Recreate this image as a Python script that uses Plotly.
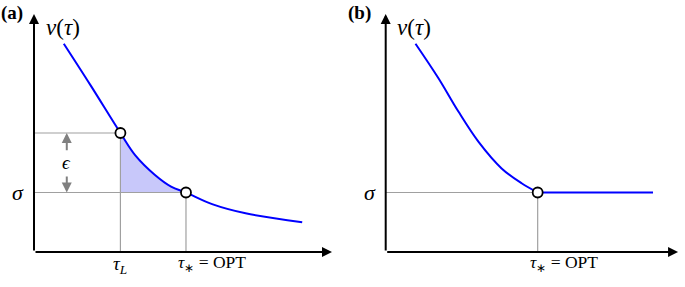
import plotly.graph_objects as go

# ---- data (arbitrary units) ----
curve_a_x = [1.0, 1.9, 2.9, 3.4, 4.05, 4.6, 5.1, 6.0, 7.1, 9.0]
curve_a_y = [7.0, 5.6, 4.0, 3.25, 2.6, 2.2, 2.0, 1.6, 1.3, 1.0]
curve_b_x = [1.0, 1.77, 2.44, 3.11, 3.89, 4.56, 5.1]
curve_b_y = [7.0, 5.84, 4.72, 3.71, 2.81, 2.31, 2.0]
flat_b_x = [5.1, 8.97]
flat_b_y = [2.0, 2.0]
tau_L = 2.9
v_L = 4.0
tau_star = 5.1
sigma = 2.0
x_tip_a = 10.0
x_tip_b = 9.81
y_tip = 8.0

W, H = 685, 287
PX = 29.8   # px per x unit
PY = 29.75  # px per y unit

fig = go.Figure()

SERIF = "Liberation Serif"
BLUE = "#0000ff"
GREY = "#a0a0a0"
AGREY = "#808080"

# shaded region in (a)
shade_x = [x for x in curve_a_x if tau_L <= x <= tau_star]
shade_y = [y for x, y in zip(curve_a_x, curve_a_y) if tau_L <= x <= tau_star]
fig.add_trace(go.Scatter(x=[tau_L, tau_star], y=[sigma, sigma], mode="lines",
                         line=dict(width=0, color="rgba(0,0,0,0)"), xaxis="x", yaxis="y",
                         hoverinfo="skip", showlegend=False))
fig.add_trace(go.Scatter(x=shade_x, y=shade_y, mode="lines", fill="tonexty",
                         fillcolor="rgb(200,200,250)", line=dict(width=0, shape="spline"),
                         xaxis="x", yaxis="y", hoverinfo="skip", showlegend=False))

# grey guide lines (a)
for xs, ys in [([0, tau_L], [v_L, v_L]), ([tau_L, tau_L], [0, v_L]),
               ([0, tau_star], [sigma, sigma]), ([tau_star, tau_star], [0, sigma])]:
    fig.add_trace(go.Scatter(x=xs, y=ys, mode="lines", line=dict(color=GREY, width=1.2),
                             xaxis="x", yaxis="y", hoverinfo="skip", showlegend=False))
# grey guide lines (b)
for xs, ys in [([0, tau_star], [sigma, sigma]), ([tau_star, tau_star], [0, sigma])]:
    fig.add_trace(go.Scatter(x=xs, y=ys, mode="lines", line=dict(color=GREY, width=1.2),
                             xaxis="x2", yaxis="y2", hoverinfo="skip", showlegend=False))

# curves
fig.add_trace(go.Scatter(x=curve_a_x, y=curve_a_y, mode="lines",
                         line=dict(color=BLUE, width=2, shape="spline"),
                         xaxis="x", yaxis="y", showlegend=False))
fig.add_trace(go.Scatter(x=curve_b_x, y=curve_b_y, mode="lines",
                         line=dict(color=BLUE, width=2, shape="spline"),
                         xaxis="x2", yaxis="y2", showlegend=False))
fig.add_trace(go.Scatter(x=flat_b_x, y=flat_b_y, mode="lines",
                         line=dict(color=BLUE, width=2),
                         xaxis="x2", yaxis="y2", showlegend=False))

# markers
mk = dict(size=10, color="white", line=dict(color="black", width=1.8))
fig.add_trace(go.Scatter(x=[tau_L, tau_star], y=[v_L, sigma], mode="markers", marker=mk,
                         xaxis="x", yaxis="y", showlegend=False))
fig.add_trace(go.Scatter(x=[tau_star], y=[sigma], mode="markers", marker=mk,
                         xaxis="x2", yaxis="y2", showlegend=False))

ann = []

def arrow(xr, yr, x, y, ax, ay, color="black", width=2, head=2, size=1.0):
    ann.append(dict(x=x, y=y, ax=ax, ay=ay, xref=xr, yref=yr, axref=xr, ayref=yr,
                    text="", showarrow=True, arrowhead=head, arrowsize=size,
                    arrowwidth=width, arrowcolor=color, standoff=0, startstandoff=0))

def label(xr, yr, x, y, text, size=18, xanchor="center", yanchor="middle", color="black"):
    ann.append(dict(x=x, y=y, xref=xr, yref=yr, text=text, showarrow=False,
                    xanchor=xanchor, yanchor=yanchor,
                    font=dict(family=SERIF, size=size, color=color)))

# axes with arrows
arrow("x", "y", x_tip_a, 0, 0, 0)
arrow("x", "y", 0, y_tip, 0, 0)
arrow("x2", "y2", x_tip_b, 0, 0, 0)
arrow("x2", "y2", 0, y_tip, 0, 0)

# epsilon arrows
arrow("x", "y", 1.1, v_L, 1.1, 3.37, color=AGREY, width=2, head=2, size=1.0)
arrow("x", "y", 1.1, sigma, 1.1, 2.59, color=AGREY, width=2, head=2, size=1.0)
label("x", "y", 1.1, 3.0, "<i>ϵ</i>", size=19)

# labels (a)
label("x", "y", 0.97, 7.56, "<i>v</i>(<i>τ</i>)", size=23)
label("x", "y", -0.54, sigma, "<i>σ</i>", size=22)
label("x", "y", tau_L, -0.45, "<i>τ</i><sub><i>L</i></sub>", size=19)
label("x", "y", tau_star - 0.32, -0.4, "<i>τ</i><sub>∗</sub> = OPT", size=17.5, xanchor="left")
label("paper", "paper", 12.5 / W, 1 - 13 / H, "<b>(a)</b>", size=19)

# labels (b)
label("x2", "y2", 0.95, 7.56, "<i>v</i>(<i>τ</i>)", size=23)
label("x2", "y2", -0.53, sigma, "<i>σ</i>", size=22)
label("x2", "y2", tau_star - 0.32, -0.4, "<i>τ</i><sub>∗</sub> = OPT", size=17.5, xanchor="left")
label("paper", "paper", 359 / W, 1 - 13 / H, "<b>(b)</b>", size=19)

ax_common = dict(showgrid=False, zeroline=False, showticklabels=False, showline=False,
                 ticks="", fixedrange=True)
x0a, x0b, y0 = 34.0, 385.7, 252.0
fig.update_layout(
    width=W, height=H, margin=dict(l=0, r=0, t=0, b=0),
    paper_bgcolor="white", plot_bgcolor="white", showlegend=False,
    font=dict(family=SERIF),
    xaxis=dict(domain=[0, 0.5], range=[-x0a / PX, (W / 2 - x0a) / PX], **ax_common),
    xaxis2=dict(domain=[0.5, 1], range=[-(x0b - W / 2) / PX, (W - x0b) / PX], **ax_common),
    yaxis=dict(domain=[0, 1], range=[-(H - y0) / PY, y0 / PY], anchor="x", **ax_common),
    yaxis2=dict(domain=[0, 1], range=[-(H - y0) / PY, y0 / PY], anchor="x2", **ax_common),
    annotations=ann,
)

fig.write_html("out.html", config={"displayModeBar": False},
               post_script="document.body.style.margin='0';document.body.style.overflow='hidden';")
